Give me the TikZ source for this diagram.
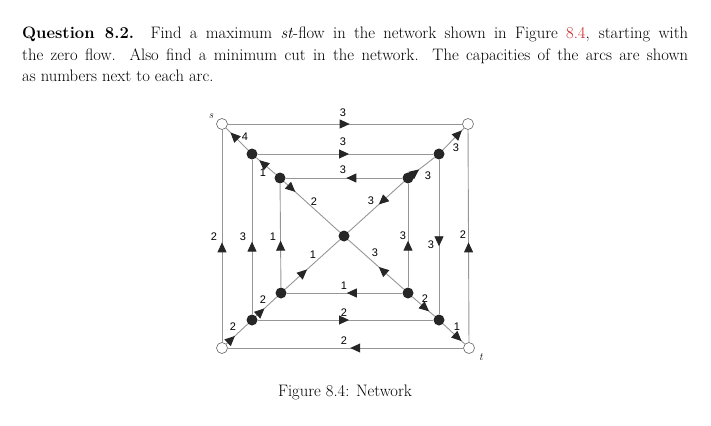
\documentclass[tikz,border=0pt]{standalone}
\usepackage{fontspec}
\newfontfamily\labf{Liberation Sans}
\usetikzlibrary{decorations.markings,arrows.meta}
\definecolor{refred}{RGB}{200,30,30}
\definecolor{edgegray}{RGB}{150,150,150}
\tikzset{
  bnode/.style={circle,fill=black!85,inner sep=0pt,minimum size=11pt},
  wnode/.style={circle,draw=black!60,fill=white,inner sep=0pt,minimum size=11pt,line width=0.6pt},
  edge/.style={draw=edgegray,line width=0.9pt},
  arr/.style={edge,postaction={decorate},decoration={markings,mark=at position #1 with {\arrow{Triangle[length=10pt,width=9pt,color=black!85]}}}},
  lab/.style={font=\labf\fontsize{11}{11}\selectfont,inner sep=0pt},
  body/.style={font=\fontsize{16.6}{21}\selectfont,inner sep=0pt,anchor=base west}
}
\begin{document}
\begin{tikzpicture}[x=1pt,y=-1pt]
\useasboundingbox (0,0) rectangle (711,425);
\node[body] (l1) at (22,39) {\makebox[666pt][s]{\textbf{Question 8.2.} Find a maximum \textit{st}-flow in the network shown in Figure \textcolor{refred}{8.4}, starting with}};
\node[body] (l2) at (22,61) {\makebox[666pt][s]{the zero flow. Also find a minimum cut in the network. The capacities of the arcs are shown}};
\node[body] (l3) at (22,82) {as numbers next to each arc.};
% nodes
\node[wnode] (s) at (222,124) {};
\node[wnode] (tr) at (468,124) {};
\node[wnode] (bl) at (222,348) {};
\node[wnode] (t) at (469,348) {};
\node[bnode] (tl2) at (252,154) {};
\node[bnode] (tr2) at (439,154) {};
\node[bnode] (bl2) at (252,320) {};
\node[bnode] (br2) at (439,320) {};
\node[bnode] (tl3) at (280,178) {};
\node[bnode] (tr3) at (408,178) {};
\node[bnode] (bl3) at (281,293) {};
\node[bnode] (br3) at (408,293) {};
\node[bnode] (c) at (344,236) {};
% horizontals
\draw[arr=0.52] (s) -- (tr);
\draw[arr=0.52] (tl2) -- (tr2);
\draw[arr=0.48] (tr3) -- (tl3);
\draw[arr=0.48] (br3) -- (bl3);
\draw[arr=0.52] (bl2) -- (br2);
\draw[arr=0.48] (t) -- (bl);
% verticals
\draw[arr=0.47] (bl) -- (s);
\draw[arr=0.47] (bl2) -- (tl2);
\draw[arr=0.45] (bl3) -- (tl3);
\draw[arr=0.45] (br3) -- (tr3);
\draw[arr=0.56] (tr2) -- (br2);
\draw[arr=0.47] (t) -- (tr);
% diagonals
\draw[arr=0.8] (tl2) -- (s);
\draw[arr=0.85] (tl3) -- (tl2);
\draw[arr=0.2] (tl3) -- (c);
\draw[arr=0.9] (tr2) -- (tr);
\draw[arr=0.3] (tr3) -- (tr2);
\draw[arr=0.45] (tr3) -- (c);
\draw[arr=0.4] (bl3) -- (c);
\draw[arr=0.4] (bl2) -- (bl3);
\draw[arr=0.4] (bl) -- (bl2);
\draw[arr=0.45] (br3) -- (c);
\draw[arr=0.75] (br3) -- (br2);
\draw[arr=0.85] (br2) -- (t);
% labels
\node[lab] (a1) at (343,113) {3};
\node[lab] (a2) at (343,142) {3};
\node[lab] (a3) at (343,170) {3};
\node[lab] (a4) at (245,137) {4};
\node[lab] (a5) at (263,173) {1};
\node[lab] (a6) at (314,202) {2};
\node[lab] (a7) at (456,148) {3};
\node[lab] (a8) at (428,176) {3};
\node[lab] (a9) at (371,201) {3};
\node[lab] (b1) at (214,237) {2};
\node[lab] (b2) at (243,237) {3};
\node[lab] (b3) at (273,237) {1};
\node[lab] (b4) at (403,236) {3};
\node[lab] (b5) at (431,245) {3};
\node[lab] (b6) at (463,235) {2};
\node[lab] (c1) at (313,255) {1};
\node[lab] (c2) at (375,253) {3};
\node[lab] (c3) at (344,286) {1};
\node[lab] (c4) at (263,300) {2};
\node[lab] (c5) at (344,313) {2};
\node[lab] (c6) at (233,327) {2};
\node[lab] (c7) at (425,299) {2};
\node[lab] (c8) at (457,327) {1};
\node[lab] (c9) at (344,341) {2};
\node[inner sep=0pt,font=\itshape\fontsize{11}{11}\selectfont] (sl) at (211,116) {s};
\node[inner sep=0pt,font=\itshape\fontsize{11}{11}\selectfont] (tl) at (481,357) {t};
\node[body,anchor=center] (cap) at (345,392) {Figure 8.4: Network};
\end{tikzpicture}
\end{document}
